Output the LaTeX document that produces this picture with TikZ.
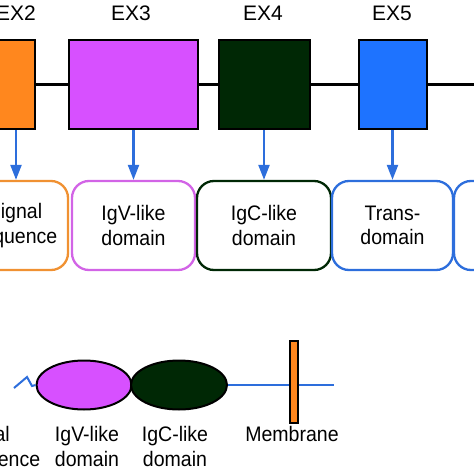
\documentclass[tikz,border=0pt]{standalone}
\usepackage{fontspec}
\setmainfont{Liberation Sans}
\newfontfamily\narrowfont[FakeStretch=0.93]{Liberation Sans}
\usetikzlibrary{positioning, arrows.meta, calc, shapes.geometric}

\definecolor{exorange}{RGB}{255,135,30}
\definecolor{exmagenta}{RGB}{215,80,255}
\definecolor{exgreen}{RGB}{0,40,5}
\definecolor{exblue}{RGB}{30,115,255}
\definecolor{lnorange}{RGB}{240,145,50}
\definecolor{lnmagenta}{RGB}{210,100,230}
\definecolor{lnblue}{RGB}{45,110,220}

\tikzset{
    exon/.style={draw=black, line width=2.5pt, minimum height=89pt, inner sep=0pt},
    dombox/.style={draw, rounded corners=17pt, line width=2.3pt, minimum height=89pt,
        inner sep=0pt, align=center, font=\narrowfont\fontsize{21}{24.5}\selectfont},
    pointer/.style={lnblue, line width=2.2pt, -{Triangle[width=11pt,length=15pt]}},
    exlabel/.style={font=\fontsize{21}{24}\selectfont},
    dlabel/.style={font=\narrowfont\fontsize{21}{24.5}\selectfont, align=center}
}

\begin{document}
\begin{tikzpicture}[x=1pt, y=-1pt]
    \useasboundingbox (0,0) rectangle (474,474);

    % exons
    \coordinate (rend) at (476,84.5);
    \node[exon, fill=exorange, minimum width=38pt] (ex2) at (16,84.5) {};
    \node[exon, fill=exmagenta, minimum width=129pt] (ex3) at (133.5,84.5) {};
    \node[exon, fill=exgreen, minimum width=91pt] (ex4) at (264.5,84.5) {};
    \node[exon, fill=exblue, minimum width=68pt] (ex5) at (393,84.5) {};
    \draw[line width=2.5pt] (ex2.east) -- (ex3.west)
        (ex3.east) -- (ex4.west)
        (ex4.east) -- (ex5.west)
        (ex5.east) -- (rend);

    \node[exlabel] at (16,13) {EX2};
    \node[exlabel] at (131,13) {EX3};
    \node[exlabel] at (263,13) {EX4};
    \node[exlabel] at (392,13) {EX5};

    % domains
    \node[dombox, draw=lnorange, minimum width=106pt] (d1) at (15,225.5) {Signal\\sequence};
    \node[dombox, draw=lnmagenta, minimum width=123pt] (d2) at (133.5,225.5) {IgV-like\\domain};
    \node[dombox, draw=exgreen, minimum width=134pt] (d3) at (264,225.5) {IgC-like\\domain};
    \node[dombox, draw=lnblue, minimum width=121pt] (d4) at (392.5,225.5) {Trans-\\domain};
    \node[dombox, draw=lnblue, minimum width=121pt] (d5) at (514.5,225.5) {};

    \draw[pointer] (ex2.south) -- (ex2.south |- d1.north);
    \draw[pointer] (ex3.south -| d2.north) -- (d2.north);
    \draw[pointer] (ex4.south -| d3.north) -- (d3.north);
    \draw[pointer] (ex5.south -| d4.north) -- (d4.north);

    % protein
    \node[ellipse, draw=black, line width=2pt, fill=exmagenta, minimum width=95pt,
        minimum height=49pt, inner sep=0pt] (igv) at (84,385) {};
    \node[ellipse, draw=black, line width=2pt, fill=exgreen, minimum width=96pt,
        minimum height=49pt, inner sep=0pt] (igc) at (179,385) {};
    \coordinate (tail) at (334,385);
    \coordinate (sp) at (14,388);
    \draw[lnblue, line width=2pt] (sp) -- (27,377) -- (32,386) -- (igv.west);
    \draw[lnblue, line width=2pt] (igc.east) -- (tail);
    \node[draw=black, line width=2pt, fill=exorange, minimum width=8pt,
        minimum height=82pt, inner sep=0pt] (mem) at (293.5,382) {};

    \node[dlabel, align=left, anchor=north west] (lsig) at (-48,423) {Signal\\sequence};
    \node[dlabel, anchor=north] (ligv) at (87,423) {IgV-like\\domain};
    \node[dlabel, anchor=north] (ligc) at (175,423) {IgC-like\\domain};
    \node[dlabel, anchor=north] (lmem) at (292,423) {Membrane};
\end{tikzpicture}
\end{document}
